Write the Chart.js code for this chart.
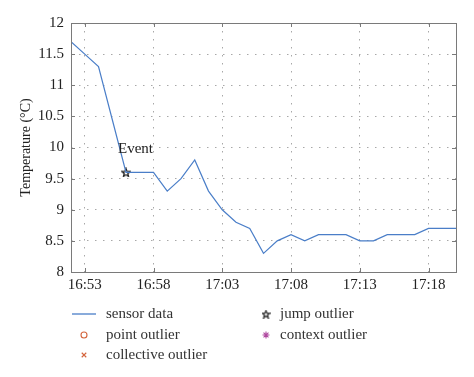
<!DOCTYPE html>
<html>
<head>
<meta charset="utf-8">
<script src="https://cdn.jsdelivr.net/npm/chart.js@4"></script>
<style>
  html, body { margin: 0; padding: 0; background: #fff; }
  #wrap { width: 474px; height: 377px; position: relative; }
</style>
</head>
<body>
<div id="wrap"><canvas id="myChart" width="474" height="377"></canvas></div>
<script>
// sensor readings, one per minute
const times = ['16:52', '16:53', '16:54', '16:55', '16:56', '16:57', '16:58', '16:59', '17:00', '17:01',
  '17:02', '17:03', '17:04', '17:05', '17:06', '17:07', '17:08', '17:09', '17:10', '17:11',
  '17:12', '17:13', '17:14', '17:15', '17:16', '17:17', '17:18', '17:19', '17:20'];
const temps = [11.7, 11.5, 11.3, 10.45, 9.6, 9.6, 9.6, 9.3, 9.5, 9.8,
  9.3, 9.0, 8.8, 8.7, 8.3, 8.5, 8.6, 8.5, 8.6, 8.6,
  8.6, 8.5, 8.5, 8.6, 8.6, 8.6, 8.7, 8.7, 8.7];
// jump outlier (the "Event")
const jumpTimes = ['16:56'];
const jumpTemps = [9.6];
const eventText = 'Event';
const xTickLabels = ['16:53', '16:58', '17:03', '17:08', '17:13', '17:18'];
const yMin = 8, yMax = 12, yStep = 0.5;
const legendLabels = ['sensor data', 'point outlier', 'collective outlier', 'jump outlier', 'context outlier'];

const FONT = '"Liberation Serif", "DejaVu Serif", serif';
const t0 = toMin(times[0]);
function toMin(s) {
  var p = s.split(':');
  return parseInt(p[0]) * 60 + parseInt(p[1]);
}
function fromMin(m) {
  var h = Math.floor(m / 60), mm = m % 60;
  return h + ':' + (mm < 10 ? '0' : '') + mm;
}

function makeStar(size, color) {
  var c = document.createElement('canvas');
  c.width = size; c.height = size;
  var g = c.getContext('2d');
  var cx = size / 2, cy = size / 2 + 0.5, ro = size / 2 - 0.6, ri = ro * 0.42;
  g.beginPath();
  for (var i = 0; i < 10; i++) {
    var r = i % 2 ? ri : ro;
    var a = -Math.PI / 2 + i * Math.PI / 5;
    g.lineTo(cx + r * Math.cos(a), cy + r * Math.sin(a));
  }
  g.closePath();
  g.strokeStyle = color;
  g.lineWidth = 1.2;
  g.stroke();
  return c;
}
const starImg = makeStar(10, '#111');
const starSmall = makeStar(9, '#222');

const sensorData = times.map((t, i) => ({ x: toMin(t) - t0, y: temps[i] }));
const jumpData = jumpTimes.map((t, i) => ({ x: toMin(t) - t0, y: jumpTemps[i] }));
const xTicks = xTickLabels.map(t => toMin(t) - t0);

// frame, inward tick marks, event label and the two-column legend
const framePlugin = {
  id: 'frame',
  afterDraw(chart) {
    const ctx = chart.ctx, a = chart.chartArea;
    const xs = chart.scales.x, ys = chart.scales.y;
    ctx.save();
    ctx.strokeStyle = '#7a7a7a';
    ctx.lineWidth = 1;
    ctx.strokeRect(Math.round(a.left) + 0.5, Math.round(a.top) + 0.5, Math.round(a.right - a.left), Math.round(a.bottom - a.top));
    ctx.beginPath();
    xs.ticks.forEach(t => {
      var px = Math.round(xs.getPixelForValue(t.value)) + 0.5;
      ctx.moveTo(px, a.bottom); ctx.lineTo(px, a.bottom - 4);
      ctx.moveTo(px, a.top); ctx.lineTo(px, a.top + 4);
    });
    ys.ticks.forEach(t => {
      var py = Math.round(ys.getPixelForValue(t.value)) + 0.5;
      ctx.moveTo(a.left, py); ctx.lineTo(a.left + 4, py);
      ctx.moveTo(a.right, py); ctx.lineTo(a.right - 4, py);
    });
    ctx.stroke();

    // event label
    var ex = xs.getPixelForValue(jumpData[0].x), ey = ys.getPixelForValue(jumpData[0].y);
    ctx.fillStyle = '#222';
    ctx.font = '15px ' + FONT;
    ctx.textAlign = 'left';
    ctx.textBaseline = 'alphabetic';
    ctx.fillText(eventText, ex - 8, ey - 19);

    // legend: marker centre and text start per column
    const markX = [84, 266], textX = [106, 280], rowY = [314, 335, 355];
    chart.data.datasets.forEach((ds, i) => {
      var col = i < 3 ? 0 : 1, row = i < 3 ? i : i - 3;
      var x = markX[col], y = rowY[row];
      if (!ds.type) {
        ctx.strokeStyle = ds.borderColor;
        ctx.lineWidth = 1.3;
        ctx.beginPath();
        ctx.moveTo(x - 12, y); ctx.lineTo(x + 12, y);
        ctx.stroke();
      } else {
        ctx.strokeStyle = ds.borderColor;
        ctx.fillStyle = ds.legendFill || ds.borderColor;
        ctx.lineWidth = 1.1;
        Chart.helpers.drawPoint(ctx, {
          pointStyle: ds.legendStyle || ds.pointStyle,
          radius: ds.legendRadius,
          borderWidth: 1.1
        }, x, y);
      }
      ctx.fillStyle = '#333';
      ctx.font = '15px ' + FONT;
      ctx.textBaseline = 'middle';
      ctx.fillText(ds.label, textX[col], y);
    });
    ctx.restore();
  }
};

const ctx = document.getElementById('myChart').getContext('2d');
const chart = new Chart(ctx, {
  type: 'line',
  data: {
    datasets: [
      {
        label: legendLabels[0],
        data: sensorData,
        borderColor: 'rgb(74,126,200)',
        borderWidth: 1.2,
        pointRadius: 0,
        tension: 0,
        fill: false
      },
      {
        label: legendLabels[1],
        type: 'scatter',
        data: [],
        pointStyle: 'circle',
        legendRadius: 3,
        legendFill: '#fff',
        borderColor: '#d4643c'
      },
      {
        label: legendLabels[2],
        type: 'scatter',
        data: [],
        pointStyle: 'crossRot',
        legendRadius: 3.2,
        borderColor: '#d4643c'
      },
      {
        label: legendLabels[3],
        type: 'scatter',
        data: jumpData,
        pointStyle: starImg,
        legendStyle: starSmall,
        legendRadius: 4,
        pointRadius: 5,
        borderColor: '#111'
      },
      {
        label: legendLabels[4],
        type: 'scatter',
        data: [],
        pointStyle: 'star',
        legendRadius: 3.5,
        borderColor: '#b04aa0'
      }
    ]
  },
  options: {
    responsive: false,
    animation: false,
    layout: { padding: { top: 23, right: 18, left: 0, bottom: 85 } },
    plugins: {
      legend: { display: false },
      tooltip: { enabled: false }
    },
    scales: {
      x: {
        type: 'linear',
        min: 0,
        max: toMin(times[times.length - 1]) - t0,
        afterBuildTicks(scale) {
          scale.ticks = xTicks.map(v => ({ value: v }));
        },
        afterFit(scale) { scale.height = 20; },
        ticks: {
          color: '#222',
          font: { family: FONT, size: 15 },
          padding: 4,
          maxRotation: 0,
          callback: v => fromMin(v + t0)
        },
        grid: { color: '#a8a8a8', lineWidth: 1, drawTicks: false },
        border: { display: false, dash: [1.5, 6.5] }
      },
      y: {
        min: yMin,
        max: yMax,
        afterFit(scale) { scale.width = 71; },
        ticks: {
          stepSize: yStep,
          color: '#222',
          font: { family: FONT, size: 15 },
          padding: 7,
          callback: v => String(v)
        },
        grid: { color: '#a8a8a8', lineWidth: 1, drawTicks: false },
        border: { display: false, dash: [1.5, 6.5] },
        title: {
          display: true,
          text: 'Temperature (°C)',
          color: '#222',
          font: { family: FONT, size: 14 },
          padding: { top: 18, bottom: 0 }
        }
      }
    }
  },
  plugins: [framePlugin]
});
</script>
</body>
</html>
